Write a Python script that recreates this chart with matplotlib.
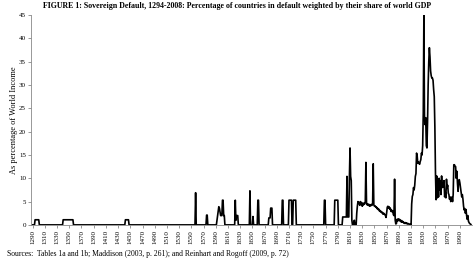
import matplotlib.pyplot as plt

# sparse default episodes before 1797 (year, % of world income)
early_years = [1290, 1293, 1294, 1300, 1301,
               1339, 1340, 1356, 1357,
               1441, 1442, 1447, 1448,
               1556, 1557, 1558,
               1574, 1575, 1576, 1577,
               1591, 1593, 1595, 1596, 1598, 1600, 1601, 1602, 1603, 1604, 1605,
               1621, 1622, 1623, 1624, 1626, 1627,
               1645, 1646, 1647, 1650, 1651, 1652,
               1658, 1659, 1660, 1661,
               1676, 1677, 1679, 1680, 1682, 1683,
               1698, 1699, 1700, 1701,
               1709, 1710, 1714, 1715, 1716, 1717, 1721, 1722,
               1767, 1768, 1769, 1770,
               1784, 1785, 1790, 1791]
early_share = [0, 0, 1.1, 1.1, 0,
               0, 1.1, 1.1, 0,
               0, 1.1, 1.1, 0,
               0, 6.9, 0,
               0, 2.1, 2.1, 0,
               0, 2.0, 3.9, 3.6, 2.0, 2.0, 5.3, 5.3, 2.0, 2.0, 0,
               0, 5.3, 1.0, 2.0, 2.0, 0,
               0, 7.3, 0, 0, 1.8, 0,
               0, 5.3, 5.3, 0,
               0, 1.5, 1.5, 3.6, 3.6, 0,
               0, 5.3, 5.3, 0,
               0, 5.3, 5.3, 0, 0, 5.3, 5.3, 0,
               0, 5.3, 5.3, 0,
               0, 5.3, 5.3, 0]

# yearly values 1797-2008
modern_start = 1797
modern_share = [
    0.0, 1.7, 1.7, 1.7,                                          # 1797-1800
    1.7, 1.7, 1.7, 1.7, 10.4, 1.7, 1.7, 1.7, 10.4, 16.5,         # 1801-1810
    10.4, 9.5, 1.0, 0, 0, 0, 1.0, 0, 0, 0,                       # 1811-1820
    2.5, 4.0, 5.0, 4.6, 4.8, 4.2, 5.0, 4.4, 4.8, 4.0,            # 1821-1830
    4.6, 4.3, 4.7, 4.5, 5.0, 13.4, 4.8, 4.3, 4.5, 4.2,           # 1831-1840
    4.4, 4.0, 4.3, 4.1, 4.4, 4.2, 4.4, 13.1, 4.3, 4.0,           # 1841-1850
    4.1, 3.8, 3.9, 3.5, 3.6, 3.3, 3.4, 3.0, 3.1, 2.8,            # 1851-1860
    2.9, 2.6, 2.7, 2.3, 2.5, 2.4, 2.2, 2.0, 1.6, 2.6,            # 1861-1870
    3.8, 4.0, 3.6, 3.9, 3.4, 3.6, 2.9, 3.2, 2.8, 3.0,            # 1871-1880
    2.2, 2.0, 9.8, 1.0, 0.2, 0.3, 1.2, 0.8, 1.3, 1.0,            # 1881-1890
    1.2, 0.8, 1.0, 0.6, 0.9, 0.6, 0.7, 0.4, 0.5, 0.3,            # 1891-1900
    0.5, 0.3, 0.4, 0.2, 0.3, 0.2, 0.2, 0.1, 0.1, 0.0,            # 1901-1910
    4.5, 6.1, 6.5, 8.0, 7.5, 8.5, 10.4, 11.0, 15.4, 14.8,        # 1911-1920
    13.2, 13.5, 13.2, 13.0, 13.6, 14.0, 15.4, 15.0, 17.0, 24.0,  # 1921-1930
    45.0, 23.0, 21.5, 23.0, 17.0, 16.5, 22.0, 30.0, 35.0, 38.0,  # 1931-1940
    36.0, 33.0, 32.0, 31.5, 31.5, 31.0, 29.0, 27.5, 21.0, 11.0,  # 1941-1950
    5.4, 10.5, 5.8, 9.0, 6.0, 10.0, 7.5, 9.5, 6.5, 10.5,         # 1951-1960
    8.0, 9.0, 8.2, 9.5, 6.0, 7.0, 5.8, 9.8, 8.0, 8.5,            # 1961-1970
    6.8, 6.5, 5.5, 6.0, 5.0, 5.5, 6.0, 5.0, 6.5, 12.9,           # 1971-1980
    12.9, 12.6, 12.5, 10.0, 11.5, 9.0, 7.2, 9.5, 9.7, 9.0,       # 1981-1990
    8.0, 7.0, 6.0, 6.5, 5.5, 4.0, 3.2, 3.5, 2.5, 3.3,            # 1991-2000
    2.0, 1.2, 2.0, 0.8, 0.5, 0.3, 0.2, 0.1,                      # 2001-2008
]

tick_years = list(range(1290, 2000, 20))

years = early_years + list(range(modern_start, modern_start + len(modern_share)))
share = early_share + modern_share

plt.rcParams['font.family'] = ['Liberation Serif', 'DejaVu Serif']

fig = plt.figure(figsize=(4.74, 2.6), dpi=100)
ax = fig.add_axes([0.065, 0.135, 0.931, 0.807])

ax.plot(years, share, color='black', lw=1.2)

ax.set_xlim(1287, 2010)
ax.set_ylim(0, 45)
ax.set_yticks(range(0, 46, 5))
ax.set_xticks(tick_years)
ax.set_xticklabels([str(y) for y in tick_years], rotation=90)
ax.tick_params(axis='both', labelsize=5, length=2, width=0.6, color='#888888', pad=1.5)

for side in ['top', 'right']:
    ax.spines[side].set_visible(False)
for side in ['left', 'bottom']:
    ax.spines[side].set_color('#888888')
    ax.spines[side].set_linewidth(0.6)

ax.set_ylabel('As percentage of World Income', fontsize=6)
ax.yaxis.set_label_coords(-0.03, 0.5)

fig.text(0.5, 0.975, 'FIGURE 1: Sovereign Default, 1294-2008: Percentage of countries in default weighted by their share of world GDP',
         ha='center', va='center', fontsize=5.7, fontweight='bold')
fig.text(0.015, 0.025, 'Sources:  Tables 1a and 1b; Maddison (2003, p. 261); and Reinhart and Rogoff (2009, p. 72)',
         ha='left', va='center', fontsize=5.5)

fig.savefig('out.png', dpi=100)
